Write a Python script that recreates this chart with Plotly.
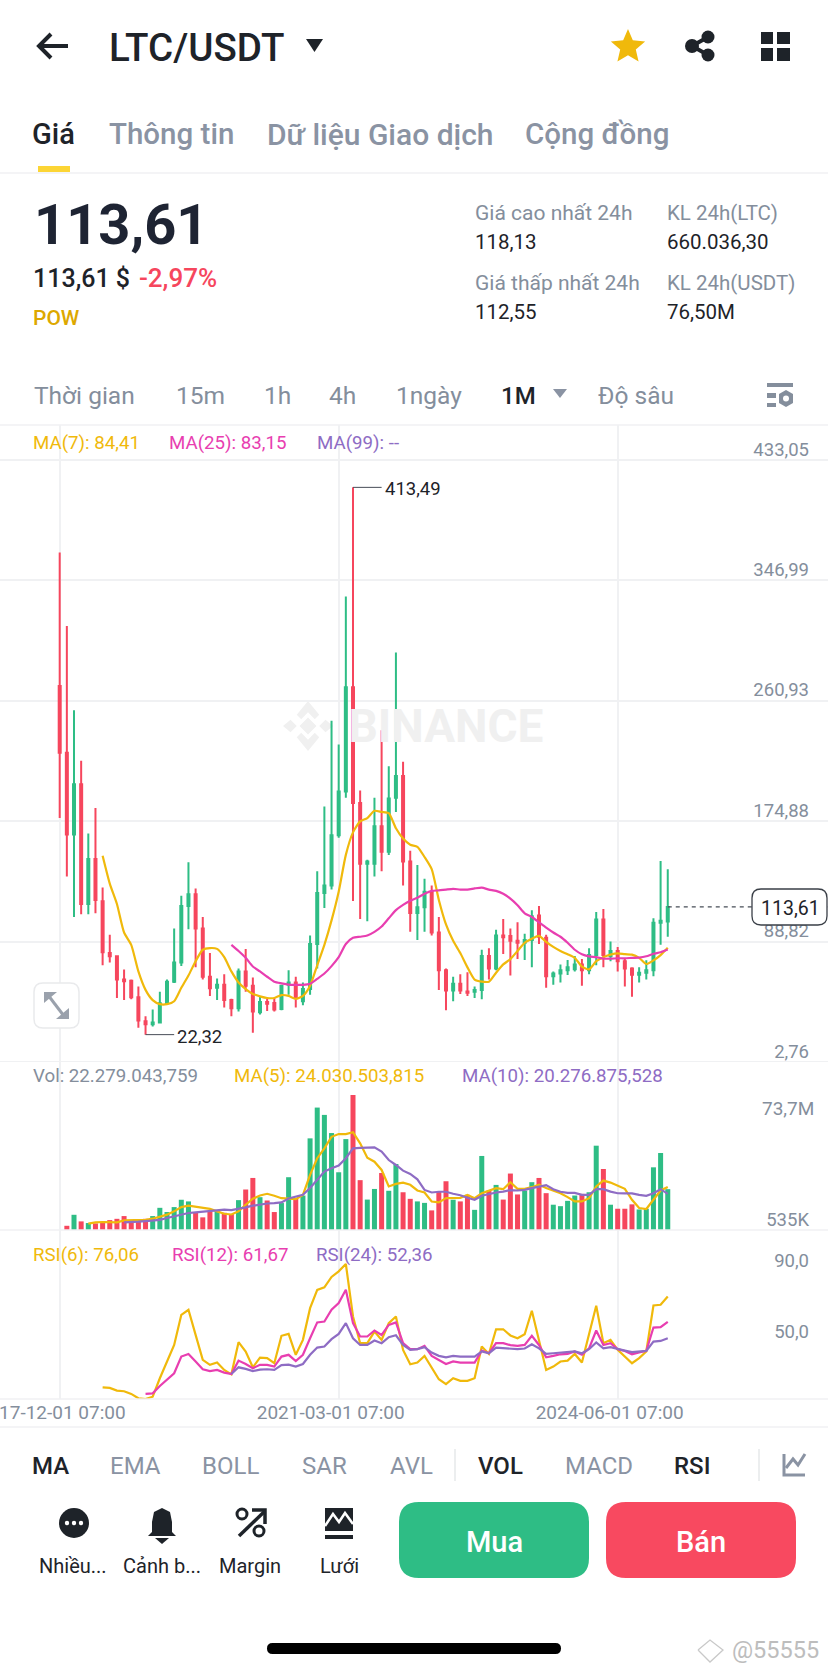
import math
import plotly.graph_objects as go

W, H = 828, 1671
FONT = "Roboto"
DARK = "#1E2329"
GRAY = "#848E9C"
GREEN = "#2EBD85"
RED = "#F6465D"
YEL = "#F0B90B"
PINK = "#E83EB0"
PUR = "#8E6CC4"
GRID = "#F0F1F3"

opens = [271.5,223.8,165.4,201.3,115.7,147.9,117.7,80.6,78.3,61.7,60.8,49.1,31.8,29.8,31.0,44.7,60.2,73.9,114.3,122.7,98.2,63.7,55.8,57.9,47.0,41.2,67.5,57.3,38.3,45.6,45.0,40.6,57.9,59.6,46.2,54.9,87.1,123.6,128.9,164.8,196.1,270.6,187.9,144.4,144.4,171.2,153.1,191.7,207.2,146.1,109.3,113.4,124.5,95.3,68.4,53.8,58.7,53.2,52.9,54.3,78.6,69.6,93.2,92.9,89.4,88.0,90.0,107.5,91.5,64.0,66.0,68.4,69.0,72.5,68.4,79.2,104.6,78.6,82.1,74.8,69.6,65.2,66.6,68.4,102.3,103.1]
highs = [367.0,314.4,254.2,218.0,166.0,184.4,127.4,93.8,78.3,68.9,61.7,56.7,35.4,40.3,52.9,61.7,98.2,121.6,145.5,126.8,106.4,80.6,62.5,65.5,47.9,69.6,83.6,63.1,49.9,47.9,48.5,57.9,68.4,63.7,59.6,93.2,139.1,185.3,246.6,229.7,335.4,413.49,196.9,147.3,191.7,239.9,214.2,295.4,217.4,153.7,143.5,133.8,128.9,106.4,69.6,63.7,65.5,66.9,56.7,83.0,84.1,97.3,104.9,98.2,102.6,94.4,111.3,114.3,93.8,67.5,72.5,75.7,78.6,76.3,84.1,109.9,112.2,88.8,85.0,76.3,70.4,70.4,75.4,105.5,146.4,140.6]
lows = [177.1,135.3,106.4,108.4,108.4,109.0,71.9,73.9,48.5,47.0,47.6,27.2,22.32,28.1,30.4,44.1,59.3,71.3,97.6,70.4,61.7,49.9,47.0,41.8,35.4,38.9,52.9,23.7,36.8,39.2,38.9,39.7,50.9,41.8,43.3,50.9,69.6,112.8,126.0,163.1,191.7,117.8,104.9,103.4,135.3,139.1,150.8,181.5,128.9,95.8,90.0,95.8,93.2,54.3,39.7,46.2,51.4,49.9,48.5,47.6,61.7,68.4,80.0,64.6,76.3,75.7,70.4,87.1,55.8,57.9,59.6,64.9,67.5,57.3,65.5,71.9,70.4,74.8,67.5,56.7,49.4,59.6,61.7,64.0,86.5,92.3]
closes = [223.8,165.4,201.3,115.7,147.9,118.6,81.2,78.3,61.7,60.5,49.1,32.4,29.8,31.0,44.7,60.2,73.9,114.3,122.7,98.2,63.7,55.5,57.9,47.0,41.2,67.5,57.3,38.9,45.6,44.4,40.3,57.3,59.6,48.5,54.9,87.1,123.6,128.9,164.8,196.1,270.6,187.9,144.4,146.1,171.2,153.1,191.1,207.2,146.1,109.3,113.4,124.5,95.3,68.4,53.8,58.7,53.8,52.3,54.3,78.6,69.6,93.2,92.0,89.4,88.0,90.0,106.9,92.3,64.0,66.0,68.4,70.4,72.5,68.4,79.2,104.6,79.2,82.1,74.8,69.6,65.2,66.6,68.4,102.3,103.7,113.61]
ma7 = [None]*6 + [150.2,130.3,115.7,95.3,86.5,67.5,54.3,47.0,44.1,44.1,46.2,55.8,64.6,74.8,83.0,84.2,83.6,77.7,67.5,59.6,54.9,51.4,49.7,48.5,48.5,50.6,50.0,47.9,50.0,57.3,71.9,86.5,104.0,124.5,150.8,166.9,174.7,177.1,182.3,181.5,180.6,169.8,162.5,158.1,156.6,149.3,140.6,118.6,101.1,89.4,80.6,70.4,61.7,60.2,60.2,66.6,72.5,76.3,82.1,88.0,90.9,92.9,88.6,85.0,82.1,79.8,77.2,71.0,69.0,74.8,77.7,79.5,80.4,79.8,79.5,77.2,72.8,75.4,79.2,84.41]
ma25 = [None]*24 + [86.5,82.1,77.2,71.0,67.5,63.7,60.2,59.0,58.1,57.9,57.9,58.7,62.2,66.0,71.3,77.7,87.1,91.5,92.3,93.2,95.8,99.6,105.5,111.3,115.1,118.0,120.1,123.0,125.1,125.4,126.0,126.5,126.0,126.0,126.8,127.4,126.0,125.1,123.0,119.5,114.8,109.0,106.4,102.6,98.8,95.3,92.3,88.0,83.0,79.8,78.3,77.7,76.6,76.6,76.9,76.9,77.2,77.4,78.3,80.1,81.2,83.15]
volume = [None,2.3,8.3,4.7,3.8,3.6,4.3,5.4,6.1,7.6,5.4,5.8,6.1,7.6,12.1,9.8,12.5,16.5,15.6,9.8,6.9,10.3,10.7,9.4,8.7,16.3,22.1,28.4,17.9,16.1,9.8,14.7,28.8,17.0,18.8,50.0,66.8,62.8,52.9,31.5,49.6,73.7,27.2,16.6,22.4,31.1,21.4,36.0,20.6,17.0,15.6,14.8,10.7,21.0,26.6,16.5,15.6,19.2,11.0,40.4,21.5,24.6,16.6,30.8,19.4,21.5,26.1,28.4,20.1,13.8,13.0,15.9,18.8,19.7,20.6,46.0,33.3,13.8,11.6,11.6,14.0,11.2,11.6,34.2,42.0,22.28]
vol_ma5 = [None]*4 + [4.0,4.7,4.9,4.7,4.7,5.8,5.8,6.0,6.1,6.7,8.0,8.9,10.7,13.0,13.8,13.2,12.7,12.1,10.7,9.4,9.0,10.7,14.3,17.6,19.4,20.3,19.2,17.9,17.6,17.4,19.7,30.6,39.7,45.1,51.4,52.9,52.9,53.9,47.8,40.0,37.8,33.3,24.3,25.7,26.4,25.2,22.1,21.0,16.1,15.6,17.9,18.1,18.1,19.7,17.9,20.6,22.1,23.4,22.8,26.6,23.0,23.0,23.9,25.2,23.4,21.9,20.6,18.5,16.1,16.1,17.9,24.3,27.5,26.4,24.8,23.0,17.0,12.5,12.0,17.0,22.1,24.03]
vol_ma10 = [None]*9 + [4.7,5.1,5.1,5.4,5.6,6.1,7.1,8.0,9.2,9.8,10.1,10.5,11.0,11.4,11.6,11.4,12.0,12.9,13.8,14.5,15.0,15.2,15.6,17.7,18.5,19.7,23.4,27.9,32.4,34.2,35.7,39.7,45.1,45.3,45.3,45.6,43.3,38.7,36.0,32.9,31.1,28.2,22.4,21.0,21.4,21.4,20.3,19.5,18.1,17.0,19.2,20.3,21.0,21.5,22.3,22.1,22.4,23.4,24.3,25.0,22.8,21.4,20.8,20.8,19.7,19.7,22.8,22.8,21.5,20.6,20.5,20.5,19.7,19.2,20.6,22.8,20.28]
rsi6 = [None]*6 + [24.4,24.1,22.6,22.2,20.7,18.2,17.8,19.1,29.6,39.1,48.5,65.6,68.5,54.2,40.0,37.2,38.5,34.3,31.8,50.1,44.8,35.8,41.3,41.0,38.1,53.7,54.8,42.9,51.4,69.4,79.8,81.2,87.1,90.3,94.5,64.7,49.5,49.5,56.1,51.4,60.9,64.7,45.7,37.5,38.5,42.3,35.3,29.0,26.2,29.6,28.1,28.1,29.6,47.6,43.4,57.4,57.4,53.9,52.3,54.6,67.9,51.4,34.3,36.2,39.1,39.6,43.4,38.5,54.2,70.8,49.5,51.4,45.7,41.9,38.1,41.0,44.8,70.9,71.3,76.06]
rsi12 = [None]*12 + [20.7,21.0,25.2,28.6,32.4,41.9,43.4,39.1,34.7,33.7,34.3,32.8,32.0,39.6,37.7,35.3,37.2,37.2,36.2,41.9,42.9,39.4,42.9,52.3,61.3,61.8,68.5,72.3,79.8,60.9,53.3,53.3,56.7,54.2,59.9,61.3,49.5,46.1,46.1,48.0,42.3,40.0,37.7,39.1,38.5,38.5,38.5,45.3,43.8,49.5,49.5,48.4,48.0,48.5,53.7,48.5,41.5,42.3,43.2,43.4,44.8,42.9,46.6,56.7,48.5,49.5,46.1,45.1,43.2,44.2,45.1,58.4,58.6,61.67]
rsi24 = [None]*24 + [32.0,35.8,34.9,33.7,34.5,34.7,34.3,37.0,37.3,36.2,37.7,42.9,47.0,47.6,51.8,54.8,60.9,52.3,48.5,48.5,51.0,49.5,52.9,54.0,48.5,45.7,46.1,47.2,44.2,42.3,41.5,42.3,41.9,41.9,41.9,44.8,43.8,47.0,46.6,46.3,46.1,46.5,48.9,46.6,43.4,43.8,44.2,44.4,44.8,43.8,46.1,49.9,46.6,47.2,46.1,45.3,44.4,44.8,45.1,50.4,50.8,52.36]

months = [f"{2017 + (11 + k) // 12}-{(11 + k) % 12 + 1:02d}" for k in range(len(closes))]
date_labels = ["2017-12-01 07:00", "2021-03-01 07:00", "2024-06-01 07:00"]
date_months = ["2017-12", "2021-03", "2024-06"]
price_ticks = [433.05, 346.99, 260.93, 174.88, 88.82, 2.76]
price_labels = ["433,05", "346,99", "260,93", "174,88", "88,82", "2,76"]
rsi_ticks = [90, 50]
rsi_labels = ["90,0", "50,0"]

def px(x): return x / W
def py(y): return 1 - y / H

shapes, annos = [], []

def T(x, y, s, size, color=DARK, anchor="left", weight=400):
    annos.append(dict(xref="paper", yref="paper", x=px(x), y=py(y), text=s, showarrow=False,
                      xanchor=anchor, yanchor="middle", borderpad=0,
                      font=dict(family=FONT, size=size, color=color, weight=weight)))

def path(pts, close=True):
    d = "M" + " L".join(f"{px(a):.5f},{py(b):.5f}" for a, b in pts)
    return d + (" Z" if close else "")

def poly(pts, fill=DARK, layer="above"):
    shapes.append(dict(type="path", xref="paper", yref="paper", path=path(pts), fillcolor=fill,
                       line=dict(width=0), layer=layer))

def stroke(pts, color=DARK, width=3, dash="solid"):
    shapes.append(dict(type="path", xref="paper", yref="paper", path=path(pts, False),
                       line=dict(color=color, width=width, dash=dash), fillcolor="rgba(0,0,0,0)"))

def rrect(x0, y0, x1, y1, r, fill="rgba(0,0,0,0)", line=None, lw=1):
    P = lambda a, b: f"{px(a):.5f},{py(b):.5f}"
    d = (f"M{P(x0+r,y0)} L{P(x1-r,y0)} Q{P(x1,y0)} {P(x1,y0+r)} L{P(x1,y1-r)} Q{P(x1,y1)} {P(x1-r,y1)} "
         f"L{P(x0+r,y1)} Q{P(x0,y1)} {P(x0,y1-r)} L{P(x0,y0+r)} Q{P(x0,y0)} {P(x0+r,y0)} Z")
    shapes.append(dict(type="path", xref="paper", yref="paper", path=d, fillcolor=fill,
                       line=dict(color=line or fill, width=lw if line else 0)))

def circle(cx, cy, r, fill=DARK, line=None, lw=1):
    shapes.append(dict(type="circle", xref="paper", yref="paper", x0=px(cx - r), x1=px(cx + r),
                       y0=py(cy + r), y1=py(cy - r), fillcolor=fill,
                       line=dict(color=line or fill, width=lw if line else 0)))

def hline(y, color=GRID, x0=0, x1=W, width=1.5):
    shapes.append(dict(type="line", xref="paper", yref="paper", x0=px(x0), x1=px(x1), y0=py(y), y1=py(y),
                       line=dict(color=color, width=width)))

def vline(x, y0, y1, color="#E6E8EA", width=1.5):
    shapes.append(dict(type="line", xref="paper", yref="paper", x0=px(x), x1=px(x), y0=py(y0), y1=py(y1),
                       line=dict(color=color, width=width)))

# header
stroke([(39, 46), (68, 46)], width=4)
stroke([(51, 34), (39, 46), (51, 58)], width=4)
T(108, 47, "LTC/USDT", 38.5, DARK, weight=500)
poly([(306, 39), (323, 39), (314.5, 52)])
star = []
for k in range(10):
    rad = 18 if k % 2 == 0 else 8.2
    a = -math.pi / 2 + k * math.pi / 5
    star.append((628 + rad * math.cos(a), 47 + rad * math.sin(a)))
poly(star, YEL)
stroke([(708, 37), (692, 46), (708, 55)], width=4)
circle(708, 37, 6.5); circle(708, 55, 6.5); circle(692, 46, 7)
poly([(761, 32), (773, 32), (773, 44), (761, 44)])
poly([(777, 32), (790, 32), (790, 44), (777, 44)])
poly([(761, 48), (773, 48), (773, 61), (761, 61)])
poly([(777, 48), (790, 48), (790, 61), (777, 61)])

# tabs
T(31, 134, "Giá", 29, DARK, weight=500)
T(108, 134, "Thông tin", 29.5, "#8A93A3", weight=500)
T(266, 134, "Dữ liệu Giao dịch", 30, "#8A93A3", weight=500)
T(524, 134, "Cộng đồng", 29.5, "#8A93A3", weight=500)
poly([(38, 166), (70, 166), (70, 172), (38, 172)], "#FCD535")
hline(173)

# price summary
T(33, 225, "113,61", 56, "#1E2433", weight=700)
T(32, 278, "113,61 $", 25, DARK, weight=500)
T(138, 278, "-2,97%", 26, RED, weight=500)
T(32, 318, "POW", 21, "#DDA800", weight=500)
T(474, 213, "Giá cao nhất 24h", 21, GRAY)
T(474, 242, "118,13", 20.5, DARK)
T(666, 213, "KL 24h(LTC)", 20.5, GRAY)
T(666, 242, "660.036,30", 20.5, DARK)
T(474, 283, "Giá thấp nhất 24h", 21, GRAY)
T(474, 312, "112,55", 20.5, DARK)
T(666, 283, "KL 24h(USDT)", 20.5, GRAY)
T(666, 312, "76,50M", 20.5, DARK)

# interval row
for xx, s in [(33, "Thời gian"), (175, "15m"), (263, "1h"), (328, "4h"), (395, "1ngày"), (597, "Độ sâu")]:
    T(xx, 396, s, 24.5, GRAY)
T(500, 396, "1M", 24, DARK, weight=500)
poly([(553, 389), (567, 389), (560, 398)], "#8A93A3")
poly([(767, 383), (793, 383), (793, 387), (767, 387)], GRAY)
poly([(767, 393), (776, 393), (776, 398), (767, 398)], GRAY)
poly([(767, 403), (776, 403), (776, 407), (767, 407)], GRAY)
poly([(786, 390), (793, 394), (793, 403), (786, 407), (779, 403), (779, 394)], GRAY)
circle(786, 398.5, 3, "#FFFFFF")
hline(425)

# indicator legends
LEG = 18.7
T(32, 443, "MA(7): 84,41", LEG, YEL)
T(168, 443, "MA(25): 83,15", LEG, PINK)
T(316, 443, "MA(99): --", LEG, PUR)
T(32, 1076, "Vol: 22.279.043,759", LEG, GRAY)
T(233, 1076, "MA(5): 24.030.503,815", LEG, YEL)
T(461, 1076, "MA(10): 20.276.875,528", LEG, PUR)
T(32, 1255, "RSI(6): 76,06", LEG, YEL)
T(171, 1255, "RSI(12): 61,67", LEG, PINK)
T(315, 1255, "RSI(24): 52,36", LEG, PUR)
T(815, 1108, "73,7M", 19, GRAY, "right")

# panel rules
hline(1230); hline(1399); hline(1427)

# expand button
rrect(34, 983, 79, 1028, 9, "#FFFFFF", "#E9EAEC", 1.5)
stroke([(48, 995), (64, 1016)], "#9AA1AC", 3)
poly([(44, 992), (57, 992), (44, 1003)], "#9AA1AC")
poly([(69, 1019), (56, 1019), (69, 1008)], "#9AA1AC")

# high / low markers
shapes.append(dict(type="line", xref="x", yref="y", x0=months[41], x1=months[45], y0=highs[41], y1=highs[41],
                   line=dict(color="#474D57", width=1)))
shapes.append(dict(type="line", xref="x", yref="y", x0=months[12], x1=months[16], y0=lows[12], y1=lows[12],
                   line=dict(color="#474D57", width=1)))
annos.append(dict(xref="x", yref="y", x=months[45], y=highs[41], text="413,49", showarrow=False, xanchor="left",
                  xshift=1, yshift=-2, font=dict(family=FONT, size=18.5, color=DARK)))
annos.append(dict(xref="x", yref="y", x=months[16], y=lows[12], text="22,32", showarrow=False, xanchor="left",
                  xshift=1, yshift=-2, font=dict(family=FONT, size=18.5, color=DARK)))

# last price tag
shapes.append(dict(type="line", xref="x", yref="y", x0=months[85], x1=107.4, y0=closes[85], y1=closes[85],
                   line=dict(color="#474D57", width=1.2, dash="4px,4px")))
rrect(752, 889, 827, 925, 9, "#FFFFFF", "#3A3F47", 1.3)
T(790, 908, "113,61", 19.5, DARK, "center")

# chart watermark logo (under the candles)
cx, cy, s = 308, 726, 25
poly([(cx, cy - .34 * s), (cx + .34 * s, cy), (cx, cy + .34 * s), (cx - .34 * s, cy)], "#F0F0F0", "below")
poly([(cx - s * .45, cy - s * .45), (cx, cy - s), (cx + s * .45, cy - s * .45), (cx + s * .27, cy - s * .27), (cx, cy - s * .55), (cx - s * .27, cy - s * .27)], "#F0F0F0", "below")
poly([(cx - s * .45, cy + s * .45), (cx, cy + s), (cx + s * .45, cy + s * .45), (cx + s * .27, cy + s * .27), (cx, cy + s * .55), (cx - s * .27, cy + s * .27)], "#F0F0F0", "below")
poly([(cx - s, cy), (cx - s * .7, cy - s * .25), (cx - s * .45, cy), (cx - s * .7, cy + s * .25)], "#F0F0F0", "below")
poly([(cx + s, cy), (cx + s * .7, cy - s * .25), (cx + s * .45, cy), (cx + s * .7, cy + s * .25)], "#F0F0F0", "below")

# indicator tabs
for xx, s_, c, w in [(31, "MA", DARK, 500), (109, "EMA", "#8A93A3", 400), (201, "BOLL", "#8A93A3", 400), (301, "SAR", "#8A93A3", 400),
                     (389, "AVL", "#8A93A3", 400), (477, "VOL", DARK, 500), (564, "MACD", "#8A93A3", 400), (673, "RSI", DARK, 500)]:
    T(xx, 1466, s_, 24, c, weight=w)
vline(455, 1449, 1481); vline(759, 1449, 1481)
stroke([(784, 1454), (784, 1475), (805, 1475)], "#8A93A3", 3)
stroke([(786, 1468), (793, 1459), (798, 1465), (805, 1454)], "#8A93A3", 3)

# tools
circle(74, 1523, 15)
for dx in (-7, 0, 7):
    circle(74 + dx, 1523, 2.2, "#FFFFFF")
poly([(162, 1508), (170, 1512), (172, 1522), (172, 1532), (176, 1536), (148, 1536), (152, 1532), (152, 1522), (154, 1512)])
poly([(155, 1538), (169, 1538), (162, 1544)])
stroke([(239, 1536), (265, 1511)], width=3.5)
stroke([(252, 1510), (265, 1510), (265, 1524)], width=3.5)
circle(242, 1514, 5, "#FFFFFF", DARK, 3); circle(259, 1531, 5, "#FFFFFF", DARK, 3)
poly([(325, 1508), (353, 1508), (353, 1531), (325, 1531)])
stroke([(325, 1526), (333, 1514), (339, 1522), (345, 1513), (353, 1524)], "#FFFFFF", 2.5)
poly([(325, 1535), (353, 1535), (353, 1539), (325, 1539)])
T(73, 1566, "Nhiều...", 20, DARK, "center")
T(162, 1566, "Cảnh b...", 20, DARK, "center")
T(250, 1566, "Margin", 20, DARK, "center")
T(339, 1566, "Lưới", 20, DARK, "center")
rrect(399, 1502, 589, 1578, 20, GREEN)
rrect(606, 1502, 796, 1578, 20, "#F84960")
T(494, 1542, "Mua", 29, "#FFFFFF", "center", 500)
T(701, 1542, "Bán", 29, "#FFFFFF", "center", 500)
rrect(267, 1643, 561, 1654, 5.5, "#000000")
stroke([(698, 1650), (710, 1640), (723, 1650), (710, 1662), (698, 1650)], "#C9C9C9", 1.3)
T(731, 1650, "@55555", 23.5, "#BDBDBD")

fig = go.Figure()
fig.add_trace(go.Scatter(x=[months[54]], y=[240], mode="text", text=["BINANCE"], hoverinfo="skip", showlegend=False,
                         textfont=dict(family=FONT, size=46, color="#F0F0F0", weight=700), xaxis="x", yaxis="y"))
fig.add_trace(go.Candlestick(x=months, open=opens, high=highs, low=lows, close=closes, xaxis="x", yaxis="y",
                             increasing=dict(line=dict(color=GREEN, width=2), fillcolor=GREEN),
                             decreasing=dict(line=dict(color=RED, width=2), fillcolor=RED),
                             whiskerwidth=0, showlegend=False, hoverinfo="skip"))
LW = 2.2
fig.add_trace(go.Scatter(x=months, y=ma7, mode="lines", line=dict(color=YEL, width=LW, shape="spline", smoothing=.6), xaxis="x", yaxis="y", showlegend=False))
fig.add_trace(go.Scatter(x=months, y=ma25, mode="lines", line=dict(color=PINK, width=LW, shape="spline", smoothing=.6), xaxis="x", yaxis="y", showlegend=False))

bar_colors = [GREEN if c >= o else RED for o, c in zip(opens, closes)]
fig.add_trace(go.Bar(x=months, y=volume, base=0.535, marker=dict(color=bar_colors, line=dict(width=0)), xaxis="x2", yaxis="y2", showlegend=False))
fig.add_trace(go.Scatter(x=months, y=vol_ma5, mode="lines", line=dict(color=YEL, width=LW), xaxis="x2", yaxis="y2", showlegend=False))
fig.add_trace(go.Scatter(x=months, y=vol_ma10, mode="lines", line=dict(color=PUR, width=LW), xaxis="x2", yaxis="y2", showlegend=False))

fig.add_trace(go.Scatter(x=months, y=rsi6, mode="lines", line=dict(color=YEL, width=LW), xaxis="x3", yaxis="y3", showlegend=False))
fig.add_trace(go.Scatter(x=months, y=rsi12, mode="lines", line=dict(color=PINK, width=LW), xaxis="x3", yaxis="y3", showlegend=False))
fig.add_trace(go.Scatter(x=months, y=rsi24, mode="lines", line=dict(color=PUR, width=LW), xaxis="x3", yaxis="y3", showlegend=False))

xbase = dict(type="category", categoryorder="array", categoryarray=months, range=[-8.345, 107.4], tickmode="array", tickvals=date_months, ticktext=date_labels,
             showgrid=True, gridcolor=GRID, gridwidth=1.5, zeroline=False, showline=False, ticks="",
             fixedrange=True, domain=[0, 1], rangeslider=dict(visible=False),
             tickfont=dict(family=FONT, size=19, color=GRAY))
ybase = dict(side="right", zeroline=False, showline=False, ticks="", fixedrange=True, ticklabelposition="inside top",
             ticklabelstandoff=16, ticklabelshift=2, tickfont=dict(family=FONT, size=18.5, color=GRAY))

fig.update_layout(
    width=W, height=H, autosize=False, margin=dict(l=0, r=0, t=0, b=0, autoexpand=False),
    paper_bgcolor="#FFFFFF", plot_bgcolor="#FFFFFF", showlegend=False, boxgap=0.6, bargap=0.3,
    font=dict(family=FONT), hovermode=False,
    xaxis=dict(xbase, anchor="y", showticklabels=False),
    xaxis2=dict(xbase, anchor="y2", showticklabels=False),
    xaxis3=dict(xbase, anchor="y3", showticklabels=True, ticklabelshift=-8),
    yaxis=dict(ybase, anchor="x", domain=[py(1066), py(425)], range=[-0.1, 458.07], tickmode="array",
               tickvals=price_ticks, ticktext=price_labels, showgrid=True, gridcolor=GRID, gridwidth=1.5),
    yaxis2=dict(ybase, anchor="x2", domain=[py(1234), py(1062)], range=[-1.647, 92.2], tickmode="array",
                tickvals=[0.535], ticktext=["535K"], showgrid=False),
    yaxis3=dict(ybase, anchor="x3", domain=[py(1399), py(1230)], range=[17.8, 113.8], tickmode="array",
                tickvals=rsi_ticks, ticktext=rsi_labels, showgrid=False),
    shapes=shapes, annotations=annos,
)
fig.write_html("out.html", config=dict(displayModeBar=False, responsive=False),
               post_script="document.body.style.margin='0';document.body.style.overflow='hidden';")
